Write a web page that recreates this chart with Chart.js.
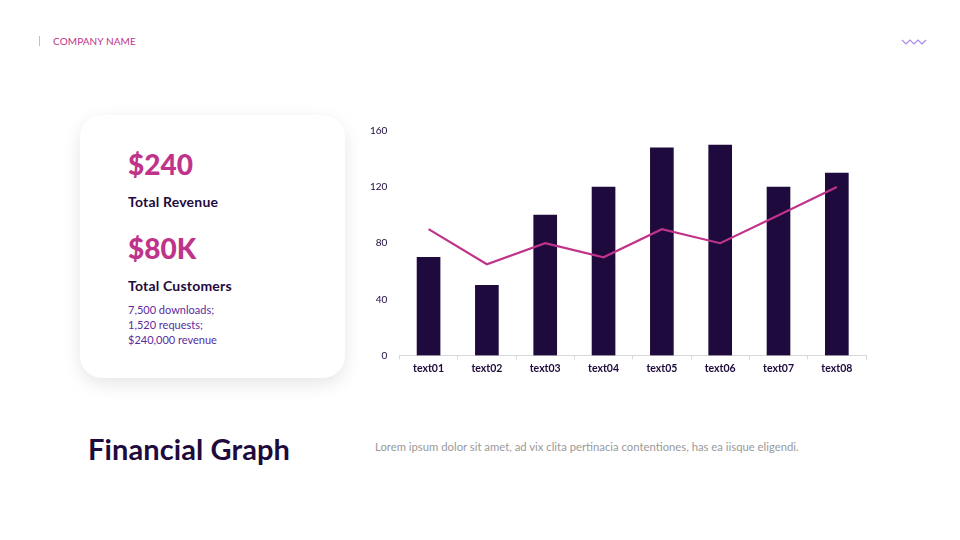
<!DOCTYPE html>
<html>
<head>
<meta charset="utf-8">
<script src="https://cdn.jsdelivr.net/npm/chart.js@4"></script>
<style>
  html,body{margin:0;padding:0;background:#fff;}
  body{width:960px;height:540px;position:relative;overflow:hidden;font-family:Lato,"Noto Sans",sans-serif;}
  .abs{position:absolute;}
  #brandbar{left:39px;top:36px;width:1px;height:10px;background:#e7a8cc;}
  #brand{left:53px;top:35px;font-size:10px;color:#c0338a;letter-spacing:0.1px;}
  #card{left:80px;top:115px;width:265px;height:263px;border-radius:22px;background:#fff;box-shadow:0 6px 18px rgba(0,0,0,0.10);}
  .big{font-size:28px;font-weight:900;color:#c0338a;left:128px;}
  .lbl{font-size:14px;font-weight:700;color:#1e0a3c;left:128px;letter-spacing:0.2px;}
  .small{font-size:11px;color:#5a2ca0;left:128px;line-height:15px;}
  #title{left:88px;top:431px;font-size:29px;font-weight:700;color:#1e0a3c;letter-spacing:0.1px;}
  #lorem{left:375px;top:440px;font-size:11.3px;color:#9a9a9a;}
  #chartwrap{left:366px;top:115px;width:520px;height:270px;}
</style>
</head>
<body>
<div class="abs" id="brandbar"></div>
<div class="abs" id="brand">COMPANY NAME</div>
<svg class="abs" style="left:900px;top:37px" width="30" height="10"><polyline points="2,3 6,7 10,3 14,7 18,3 22,7 26,3" fill="none" stroke="#a98ae6" stroke-width="1.2"/></svg>
<div class="abs" id="card"></div>
<div class="abs big" style="top:147px">$240</div>
<div class="abs lbl" style="top:193px">Total Revenue</div>
<div class="abs big" style="top:231px">$80K</div>
<div class="abs lbl" style="top:277px">Total Customers</div>
<div class="abs small" style="top:302px">7,500 downloads;<br>1,520 requests;<br>$240,000 revenue</div>
<div class="abs" id="title">Financial Graph</div>
<div class="abs" id="lorem">Lorem ipsum dolor sit amet, ad vix clita pertinacia contentiones, has ea iisque eligendi.</div>
<div class="abs" id="chartwrap"><canvas id="c" width="520" height="270"></canvas></div>
<script>
const categories = ["text01","text02","text03","text04","text05","text06","text07","text08"];
const barValues = [70, 50, 100, 120, 148, 150, 120, 130];
const lineValues = [90, 65, 80, 70, 90, 80, 100, 120];
const yTicks = [0, 40, 80, 120, 160];

new Chart(document.getElementById('c'), {
  data: {
    labels: categories,
    datasets: [
      {type:'line', data: lineValues, borderColor:'#c0338a', borderWidth:2.2, pointRadius:0, tension:0, order:0},
      {type:'bar', data: barValues, backgroundColor:'#1e0a3c', barThickness:23, order:1}
    ]
  },
  options: {
    responsive:false,
    animation:false,
    layout:{padding:{left:0,right:20,top:16,bottom:7}},
    plugins:{legend:{display:false},tooltip:{enabled:false}},
    scales:{
      x:{
        grid:{display:true, drawOnChartArea:false, drawTicks:true, tickLength:4, color:'#d8d8d8', offset:true},
        border:{display:true,color:'#d8d8d8'},
        ticks:{color:'#1e0a3c', font:{family:'Lato', size:10.5, weight:'bold'}, padding:3}
      },
      y:{
        min:0, max:160,
        afterBuildTicks: ax => { ax.ticks = yTicks.map(v=>({value:v})); },
        grid:{display:false},
        border:{display:false},
        ticks:{color:'#1e0a3c', font:{family:'Lato', size:10}, padding:4}
      }
    }
  }
});
</script>
</body>
</html>
